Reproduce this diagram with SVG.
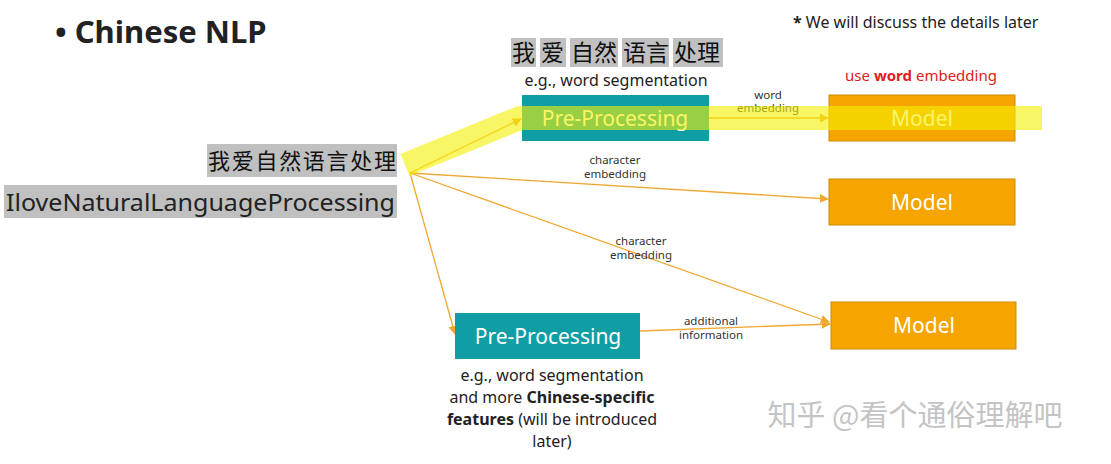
<svg xmlns="http://www.w3.org/2000/svg" width="1111" height="464" viewBox="0 0 1111 464">
<defs>
<marker id="ah" viewBox="0 0 10 10" refX="9" refY="5" markerWidth="7" markerHeight="7" orient="auto"><path d="M0,0L10,5L0,10z" fill="#f0a830"/></marker>
<style>
.t{font-family:"Noto Sans","Liberation Sans",sans-serif;fill:#222}
.cj{font-family:"Noto Sans CJK SC",sans-serif;fill:#111}
.bx{font-family:"Noto Sans","Liberation Sans",sans-serif;fill:#fff;font-size:21px;text-anchor:middle}
.lab{font-family:"Noto Sans","Liberation Sans",sans-serif;font-size:11.5px;fill:#333;text-anchor:middle}
.ln{stroke:#f0a830;stroke-width:1.3;fill:none;marker-end:url(#ah)}
.gb{fill:#c0c0c0}
.pp{fill:#109ea5}
.md{fill:#f5a400;stroke:#d08a00}
</style>
</defs>
<rect width="1111" height="464" fill="#fff"/>
<text x="55" y="43" class="t" font-size="31" font-weight="bold" fill="#111">• Chinese NLP</text>
<text x="793" y="28" class="t" font-size="16"><tspan font-weight="bold">*</tspan> We will discuss the details later</text>
<g id="segmented">
<rect class="gb" x="511" y="38" width="25" height="29"/><rect class="gb" x="540" y="38" width="26" height="29"/><rect class="gb" x="570" y="38" width="48" height="29"/><rect class="gb" x="622" y="38" width="47" height="29"/><rect class="gb" x="673" y="38" width="50" height="29"/>
<text x="512" y="61" class="cj" font-size="23">我</text><text x="541" y="61" class="cj" font-size="23">爱</text><text x="571" y="61" class="cj" font-size="23">自然</text><text x="623" y="61" class="cj" font-size="23">语言</text><text x="674" y="61" class="cj" font-size="23">处理</text>
<text x="616" y="86" class="t" font-size="16" text-anchor="middle">e.g., word segmentation</text>
</g>
<g id="inputs">
<rect class="gb" x="207" y="144" width="190" height="33"/>
<text x="208" y="169" class="cj" font-size="22" textLength="188">我爱自然语言处理</text>
<rect class="gb" x="4" y="185" width="393" height="33"/>
<text x="6" y="211" class="t" font-size="24" fill="#111" textLength="389" lengthAdjust="spacingAndGlyphs">IloveNaturalLanguageProcessing</text>
</g>
<g id="connectors">
<line class="ln" x1="410" y1="173" x2="521" y2="119"/>
<line class="ln" x1="410" y1="173" x2="828" y2="199"/>
<line class="ln" x1="410" y1="173" x2="829" y2="322"/>
<line class="ln" x1="410" y1="173" x2="455" y2="334"/>
<line class="ln" x1="709" y1="118" x2="828" y2="118"/>
<line class="ln" x1="640" y1="331" x2="830" y2="324"/>
<text x="768" y="99" class="lab">word</text><text x="768" y="112" class="lab">embedding</text>
<text x="615" y="164" class="lab">character</text><text x="615" y="178" class="lab">embedding</text>
<text x="641" y="245" class="lab">character</text><text x="641" y="259" class="lab">embedding</text>
<text x="711" y="325" class="lab">additional</text><text x="711" y="339" class="lab">information</text>
</g>
<g id="pp1"><rect class="pp" x="522" y="95" width="187" height="46"/><text x="615" y="126" class="bx">Pre-Processing</text></g>
<g id="m1"><text x="921" y="81" font-family="Noto Sans,Liberation Sans,sans-serif" font-size="15" fill="#e02020" text-anchor="middle">use <tspan font-weight="bold">word</tspan> embedding</text><rect class="md" x="829" y="95" width="186" height="46"/><text x="922" y="126" class="bx">Model</text></g>
<g id="m2"><rect class="md" x="829" y="179" width="186" height="46"/><text x="922" y="210" class="bx">Model</text></g>
<g id="m3"><rect class="md" x="831" y="302" width="185" height="47"/><text x="924" y="333" class="bx">Model</text></g>
<g id="pp2"><rect class="pp" x="455" y="313" width="185" height="46"/><text x="548" y="344" class="bx">Pre-Processing</text>
<text x="552" y="381" class="t" font-size="16" text-anchor="middle">e.g., word segmentation</text>
<text x="552" y="403" class="t" font-size="16" text-anchor="middle">and more <tspan font-weight="bold">Chinese-specific</tspan></text>
<text x="552" y="425" class="t" font-size="16" text-anchor="middle"><tspan font-weight="bold">features</tspan> (will be introduced</text>
<text x="552" y="447" class="t" font-size="16" text-anchor="middle">later)</text>
</g>
<path d="M405,165 L520,118 L1042,118" fill="none" stroke="#f5f000" stroke-opacity="0.6" stroke-width="24" stroke-linejoin="round"/>
<text x="915" y="426" font-family="Noto Sans CJK SC,sans-serif" font-size="29" style="fill:#c4c4c4" text-anchor="middle">知乎 @看个通俗理解吧</text>
</svg>
